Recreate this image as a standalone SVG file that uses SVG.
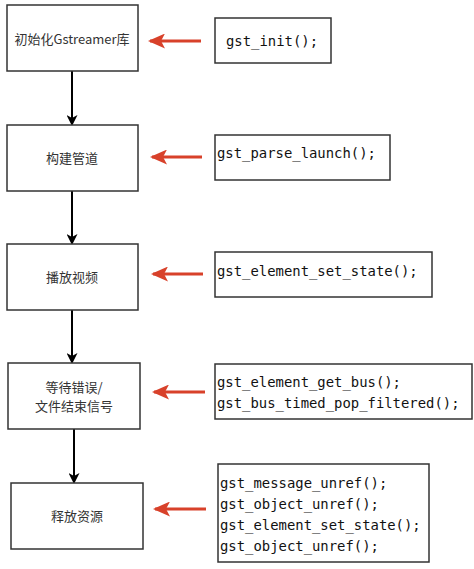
<svg xmlns="http://www.w3.org/2000/svg" width="474" height="569" viewBox="0 0 474 569">
<defs>
<marker id="bk" markerWidth="11" markerHeight="11" refX="9" refY="5.5" orient="auto" markerUnits="userSpaceOnUse" viewBox="0 0 11 11">
<path d="M0,0 L11,5.5 L0,11 L3,5.5 Z" fill="#000"/>
</marker>
<marker id="rd" markerWidth="17" markerHeight="15" refX="15" refY="7.5" orient="auto" markerUnits="userSpaceOnUse" viewBox="0 0 17 15">
<path d="M0,0 L17,7.5 L0,15 L4,7.5 Z" fill="#d8412a"/>
</marker>
<style>
.box{fill:#fff;stroke:#333;stroke-width:1.5}
.lbl{font-family:"Noto Sans CJK SC","Liberation Sans",sans-serif;font-size:13px;fill:#333;text-anchor:middle}
.code{font-family:"DejaVu Sans Mono","Liberation Mono",monospace;font-size:13.9px;fill:#111}
.blk{stroke:#000;stroke-width:2;fill:none;marker-end:url(#bk)}
.red{stroke:#d8412a;stroke-width:3;fill:none;marker-end:url(#rd)}
</style>
</defs>
<rect width="474" height="569" fill="#fff"/>
<g id="connectors">
<line class="blk" x1="72" y1="71" x2="72" y2="124"/>
<line class="blk" x1="72" y1="191" x2="72" y2="243"/>
<line class="blk" x1="72" y1="310" x2="72" y2="362"/>
<line class="blk" x1="74" y1="429" x2="74" y2="482"/>
<line class="red" x1="201" y1="41" x2="150" y2="41"/>
<line class="red" x1="202" y1="157" x2="152" y2="157"/>
<line class="red" x1="203" y1="274" x2="153" y2="274"/>
<line class="red" x1="205" y1="392" x2="154" y2="392"/>
<line class="red" x1="206" y1="509" x2="155" y2="509"/>
</g>
<g id="n1"><rect class="box" x="7" y="5" width="131" height="66"/><text class="lbl" x="72" y="44">初始化Gstreamer库</text></g>
<g id="n2"><rect class="box" x="7" y="125" width="131" height="66"/><text class="lbl" x="72" y="163">构建管道</text></g>
<g id="n3"><rect class="box" x="7" y="244" width="131" height="66"/><text class="lbl" x="72" y="282">播放视频</text></g>
<g id="n4"><rect class="box" x="8" y="363" width="132" height="66"/><text class="lbl" x="74" y="392">等待错误/</text><text class="lbl" x="74" y="411">文件结束信号</text></g>
<g id="n5"><rect class="box" x="11" y="483" width="132" height="66"/><text class="lbl" x="77" y="521">释放资源</text></g>
<g id="c1"><rect class="box" x="215" y="18" width="116" height="45"/><text class="code" x="226" y="46">gst_init();</text></g>
<g id="c2"><rect class="box" x="215" y="135" width="175" height="45"/><text class="code" x="217" y="158">gst_parse_launch();</text></g>
<g id="c3"><rect class="box" x="215" y="252" width="217" height="45"/><text class="code" x="217" y="276">gst_element_set_state();</text></g>
<g id="c4"><rect class="box" x="215" y="364" width="257" height="55"/><text class="code" x="217" y="387">gst_element_get_bus();</text><text class="code" x="217" y="408">gst_bus_timed_pop_filtered();</text></g>
<g id="c5"><rect class="box" x="218" y="464" width="211" height="98"/><text class="code" x="220" y="488">gst_message_unref();</text><text class="code" x="220" y="509">gst_object_unref();</text><text class="code" x="220" y="530">gst_element_set_state();</text><text class="code" x="220" y="551">gst_object_unref();</text></g>
</svg>
